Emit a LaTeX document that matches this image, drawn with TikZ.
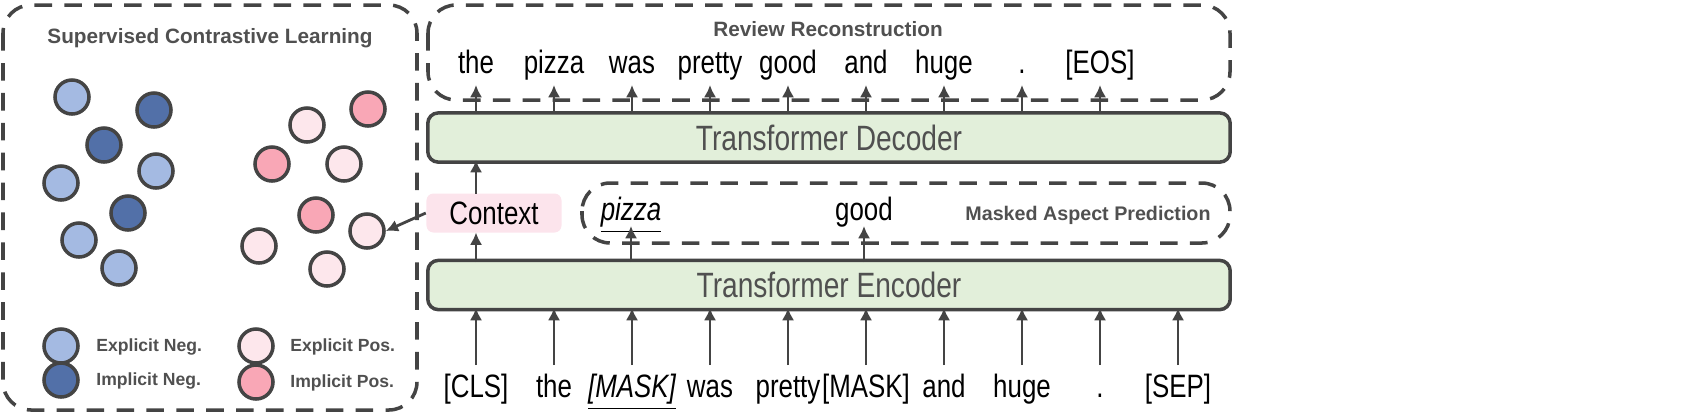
\documentclass[tikz,border=0pt]{standalone}
\usepackage{fontspec}
\setmainfont{Liberation Sans}
\newfontfamily\nar{Liberation Sans}[FakeStretch=0.8]
\usetikzlibrary{arrows.meta}
\definecolor{ln}{RGB}{68,68,68}
\definecolor{eneg}{RGB}{164,186,226}
\definecolor{ineg}{RGB}{82,112,168}
\definecolor{epos}{RGB}{253,231,236}
\definecolor{ipos}{RGB}{249,167,182}
\definecolor{ctx}{RGB}{252,228,236}
\definecolor{grn}{RGB}{226,239,218}
\definecolor{tgray}{RGB}{80,80,80}
\begin{document}
\begin{tikzpicture}[x=0.01cm,y=-0.01cm,
  dbox/.style={draw=ln,line width=1pt,dash pattern=on 5pt off 3.5pt,rounded corners=8pt},
  dot/.style={circle,draw=ln,line width=1pt,minimum size=0.34cm,inner sep=0},
  en/.style={dot,fill=eneg}, ng/.style={dot,fill=ineg},
  ep/.style={dot,fill=epos}, ip/.style={dot,fill=ipos},
  tfm/.style={draw=ln,line width=1pt,fill=grn,rounded corners=3pt,font=\nar\fontsize{10}{12}\selectfont,text=tgray},
  w/.style={font=\nar\fontsize{9.2}{11}\selectfont,inner sep=1pt},
  ttl/.style={font=\bfseries\fontsize{5.9}{7}\selectfont,text=tgray},
  lg/.style={font=\bfseries\fontsize{5}{6}\selectfont,text=tgray,anchor=west},
  ar/.style={-{Latex[length=3.5pt,width=3.5pt]},draw=ln,line width=0.8pt}]
% left box
\draw[dbox] (3,5) rectangle (417,410);
\node[ttl] at (210,38) {Supervised Contrastive Learning};
\node[en] (n1) at (72,97) {}; \node[en] (n2) at (61,183) {}; \node[en] (n3) at (156,171) {};
\node[en] (n4) at (79,240) {}; \node[en] (n5) at (119,268) {};
\node[ng] (d1) at (154,110) {}; \node[ng] (d2) at (104,145) {}; \node[ng] (d3) at (128,213) {};
\node[ep] (p1) at (307,125) {}; \node[ep] (p2) at (344,164) {}; \node[ep] (p3) at (259,246) {};
\node[ep] (p4) at (327,269) {}; \node[ep] (tgt) at (367,231) {};
\node[ip] (q1) at (368,109) {}; \node[ip] (q2) at (272,164) {}; \node[ip] (q3) at (316,215) {};
\node[en] (l1) at (61,346) {}; \node[lg] (lt1) at (84,347) {Explicit Neg.};
\node[ng] (l2) at (61,380) {}; \node[lg] (lt2) at (84,381) {Implicit Neg.};
\node[ep] (l3) at (256,346) {}; \node[lg] (lt3) at (278,347) {Explicit Pos.};
\node[ip] (l4) at (256,382) {}; \node[lg] (lt4) at (278,383) {Implicit Pos.};
% review box
\draw[dbox] (428,5) rectangle (1230,100);
\node[ttl] at (828,29) {Review Reconstruction};
\foreach \t [count=\i] in {the,pizza,was,pretty,good,and,huge,.,[EOS]}{
  \node[w,anchor=base] (o\i) at ({476+78*(\i-1)},73) {\t};}
% decoder
\node[tfm,minimum width=8.02cm,minimum height=0.45cm] (dec) at (829,137.5) {Transformer Decoder};
\foreach \i in {1,...,9}{\draw[ar] (o\i |- dec.north) -- ({476+78*(\i-1)},85);}
% masked aspect
\draw[dbox] (582,183) rectangle (1230,243);
\node[w,anchor=base,font=\nar\itshape\fontsize{9.2}{11}\selectfont] (pz) at (631,220) {\underline{pizza}};
\node[w,anchor=base] (gd) at (864,220) {good};
\node[ttl,font=\bfseries\fontsize{5.6}{7}\selectfont] at (1088,215) {Masked Aspect Prediction};
\node[w,fill=ctx,rounded corners=2pt,minimum width=1.35cm,minimum height=0.39cm] (ctxn) at (494,213) {Context};
% encoder
\node[tfm,minimum width=8.02cm,minimum height=0.46cm] (enc) at (829,285) {Transformer Encoder};
\foreach \t [count=\i] in {[CLS],the,\underline{\itshape [MASK]},was,pretty,[MASK],and,huge,.,[SEP]}{
  \node[w,anchor=base] (t\i) at ({476+78*(\i-1)},397) {\t};
  \draw[ar] ({476+78*(\i-1)},365) -- ({476+78*(\i-1)},308);}
\draw[ar] (476,262) -- (476,232.5);
\draw[ar] (631,262) -- (631,226);
\draw[ar] (864,262) -- (864,226);
\draw[ar] (476,193.5) -- (476,160);
\draw[ar] (ctxn.west) -- (tgt.east);
\pgfresetboundingbox
\path[use as bounding box] (0,0) rectangle (1702,417);
\end{tikzpicture}
\end{document}
